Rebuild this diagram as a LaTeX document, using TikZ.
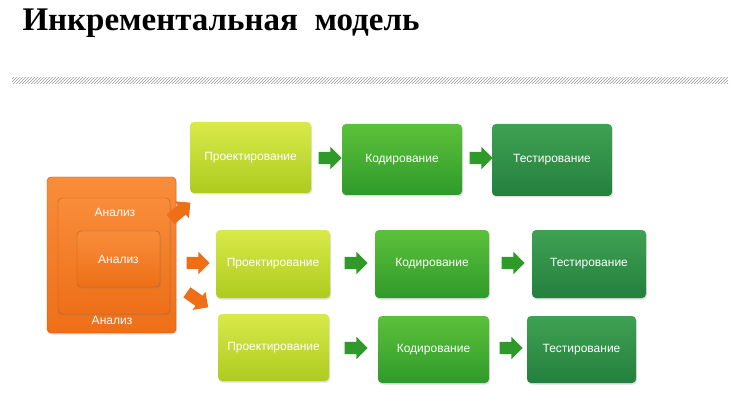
\documentclass[tikz,border=0pt]{standalone}
\usepackage{fontspec}
\setmainfont{Liberation Serif}
\newfontfamily\sansf{Liberation Sans}
\usetikzlibrary{shapes.arrows,patterns,shadows}
\definecolor{limeT}{HTML}{D8EA4A}\definecolor{limeB}{HTML}{AECB1E}
\definecolor{grT}{HTML}{5CC13A}\definecolor{grB}{HTML}{2F9A2A}
\definecolor{dgT}{HTML}{3FA152}\definecolor{dgB}{HTML}{24803E}
\definecolor{orT}{HTML}{F98D3A}\definecolor{orB}{HTML}{EE6F18}
\tikzset{
 txt/.style={font=\sansf\fontsize{12}{14}\selectfont,text=white},
 box/.style={rounded corners=4pt,txt,inner sep=0pt,drop shadow={opacity=0.25,shadow xshift=1pt,shadow yshift=-1.5pt}},
 lime/.style={box,top color=limeT,bottom color=limeB},
 grn/.style={box,top color=grT,bottom color=grB},
 dgr/.style={box,top color=dgT,bottom color=dgB},
 orb/.style={box,top color=orT,bottom color=orB,draw=orB!80!black},
 arr/.style={single arrow,minimum height=23pt,minimum width=22pt,single arrow head extend=5pt,inner sep=6pt},
 garr/.style={arr,fill=grB},
 oarr/.style={arr,fill=orB},
}
\begin{document}
\begin{tikzpicture}[x=1pt,y=-1pt]
\useasboundingbox (0,0) rectangle (741,406);
\node[anchor=west,font=\bfseries\fontsize{33}{35}\selectfont] (title) at (19,23) {Инкрементальная\ \ модель};
\fill[pattern=north east lines,pattern color=gray!80] (12,78) rectangle (728,84);
% orange
\node[orb,minimum width=129pt,minimum height=156pt] (a1) at (111.5,255) {};
\node[orb,minimum width=112pt,minimum height=116pt] (a2) at (114,256) {};
\node[orb,minimum width=83pt,minimum height=56pt] (a3) at (118.5,259) {Анализ};
\node[txt] (l2) at (115,212) {Анализ};
\node[txt] (l1) at (112,320) {Анализ};
\node[oarr,minimum height=26pt,rotate=40] (o1) at (178,213) {};
\node[oarr] (o2) at (195,263) {};
\node[oarr,minimum height=26pt,rotate=-35] (o3) at (195,298) {};
% rows
\node[lime,minimum width=121pt,minimum height=71pt] (p1) at (250.5,157.5) {Проектирование};
\node[grn,minimum width=120pt,minimum height=71pt] (k1) at (402,159.5) {Кодирование};
\node[dgr,minimum width=120pt,minimum height=72pt] (t1) at (552,160) {Тестирование};
\node[lime,minimum width=114pt,minimum height=68pt] (p2) at (273,264) {Проектирование};
\node[grn,minimum width=114pt,minimum height=68pt] (k2) at (432,264) {Кодирование};
\node[dgr,minimum width=114pt,minimum height=68pt] (t2) at (589,264) {Тестирование};
\node[lime,minimum width=111pt,minimum height=67pt] (p3) at (273.5,347.5) {Проектирование};
\node[grn,minimum width=111pt,minimum height=67pt] (k3) at (433.5,349.5) {Кодирование};
\node[dgr,minimum width=109pt,minimum height=67pt] (t3) at (581.5,349.5) {Тестирование};
\node[garr] at (327,158) {};
\node[garr] at (478,158) {};
\node[garr] at (353,263) {};
\node[garr] at (510,263) {};
\node[garr] at (353,348) {};
\node[garr] at (508,348) {};
\end{tikzpicture}
\end{document}
